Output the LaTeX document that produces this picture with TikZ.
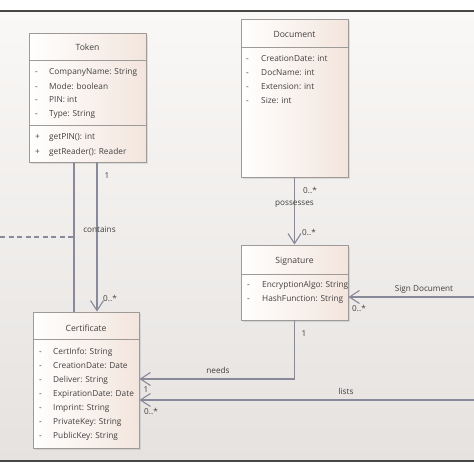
\documentclass[tikz,border=0pt]{standalone}
\usepackage{fontspec}
\setmainfont{Open Sans}
\usepackage{tikz}
\usetikzlibrary{arrows.meta,shadows}

\definecolor{umlline}{RGB}{136,138,154}
\definecolor{umlbox}{RGB}{158,154,152}
\definecolor{umltext}{RGB}{64,64,64}
\definecolor{boxright}{RGB}{243,229,221}
\definecolor{bgtop}{RGB}{250,248,246}
\definecolor{bgbot}{RGB}{229,226,224}

\begin{document}
\begin{tikzpicture}[x=1pt, y=-1pt,
  cls/.style={draw=umlbox, line width=0.9pt, left color=white, right color=boxright,
              drop shadow={shadow xshift=1.5pt, shadow yshift=-1.5pt, opacity=0.2},
              inner sep=0pt},
  sep/.style={draw=umlbox, line width=0.9pt},
  title/.style={font=\fontsize{8.6}{10}\selectfont, text=umltext, inner sep=1pt},
  mem/.style={font=\fontsize{8.3}{10}\selectfont, text=umltext, anchor=west, inner sep=0pt},
  lbl/.style={font=\fontsize{8.2}{10}\selectfont, text=umltext, inner sep=0.5pt},
  assoc/.style={draw=umlline, line width=1.1pt},
  arr/.style={assoc, -{Straight Barb[length=10pt, width=13pt]}},
]
% frame
\path[use as bounding box, fill=white] (0,0) rectangle (474,474);
\fill[top color=bgtop, bottom color=bgbot] (0,11) rectangle (474,461);
\draw[line width=1.4pt, black!72] (0,11) -- (474,11);
\draw[line width=1.4pt, black!72] (0,461) -- (474,461);

% classes
\node[cls, minimum width=117pt, minimum height=129pt] (tok)  at (87.5,97.5) {};
\node[cls, minimum width=107pt, minimum height=158pt] (doc)  at (294.5,98)  {};
\node[cls, minimum width=107pt, minimum height=75pt]  (sig)  at (294.5,282.5) {};
\node[cls, minimum width=106pt, minimum height=136pt] (cert) at (86,380)    {};

\draw[sep] ([yshift=-28pt]tok.north west)  -- ([yshift=-28pt]tok.north east);
\draw[sep] ([yshift=-93pt]tok.north west)  -- ([yshift=-93pt]tok.north east);
\draw[sep] ([yshift=-29pt]doc.north west)  -- ([yshift=-29pt]doc.north east);
\draw[sep] ([yshift=-30pt]sig.north west)  -- ([yshift=-30pt]sig.north east);
\draw[sep] ([yshift=-28pt]cert.north west) -- ([yshift=-28pt]cert.north east);

\node[title] (tokT)  at (87.5,47)  {Token};
\node[title] (docT)  at (294.5,34) {Document};
\node[title] (sigT)  at (294.5,261) {Signature};
\node[title] (certT) at (86,328)   {Certificate};

\foreach \m [count=\i] in {CompanyName: String, Mode: boolean, PIN: int, Type: String}
  \node[mem] (tokA\i) at (35, 58+14*\i) {\makebox[14pt][l]{-}\m};
\foreach \m [count=\i] in {getPIN(): int, getReader(): Reader}
  \node[mem] (tokO\i) at (35, 122+15*\i) {\makebox[14pt][l]{+}\m};
\foreach \m [count=\i] in {CreationDate: int, DocName: int, Extension: int, Size: int}
  \node[mem] (docA\i) at (246, 45+14*\i) {\makebox[15pt][l]{-}\m};
\foreach \m [count=\i] in {EncryptionAlgo: String, HashFunction: String}
  \node[mem] (sigA\i) at (247, 271+14*\i) {\makebox[15pt][l]{-}\m};
\foreach \m [count=\i] in {CertInfo: String, CreationDate: Date, Deliver: String,
    ExpirationDate: Date, Imprint: String, PrivateKey: String, PublicKey: String}
  \node[mem] (certA\i) at (39, 338+14*\i) {\makebox[14pt][l]{-}\m};

% associations
\coordinate (tokL) at ([xshift=-13.5pt]tok.south);
\coordinate (tokR) at ([xshift=9.5pt]tok.south);
\coordinate (dashend) at (0,237);
\draw[assoc] (tokL) -- (tokL |- cert.north);
\draw[assoc, dash pattern=on 5pt off 3.5pt] (dashend) -- (dashend -| tokL);
\draw[arr] (tokR) -- (tokR |- cert.north);
\draw[arr] (doc.south) -- (sig.north);

\coordinate (signend) at (474,297);
\draw[arr] (signend) -- (signend -| sig.east);

\coordinate (needs) at (sig.south |- 0,379);
\draw[arr] (sig.south) -- (needs) -- (needs -| cert.east);

\coordinate (listsend) at (474,400);
\draw[arr] (listsend) -- (listsend -| cert.east);

% labels
\node[lbl] (contM1) at (107,176) {1};
\node[lbl] (contN)  at (99.5,230) {contains};
\node[lbl] (contM2) at (110,298) {0..*};
\node[lbl] (possM1) at (310,190) {0..*};
\node[lbl] (possN)  at (294.5,204) {possesses};
\node[lbl] (possM2) at (309,232) {0..*};
\node[lbl] (signN)  at (424,289) {Sign Document};
\node[lbl] (signM)  at (359,308) {0..*};
\node[lbl] (needM1) at (304,334) {1};
\node[lbl] (needN)  at (218,370) {needs};
\node[lbl] (needM2) at (146,390) {1};
\node[lbl] (listN)  at (346,391) {lists};
\node[lbl] (listM)  at (151,411) {0..*};
\end{tikzpicture}
\end{document}
